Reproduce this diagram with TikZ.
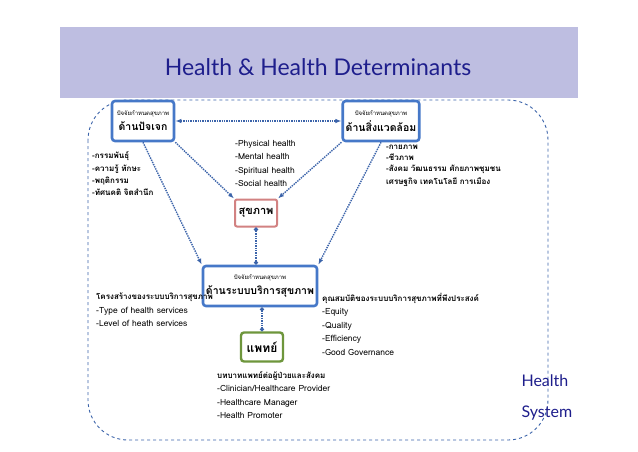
\documentclass[tikz,border=0pt]{standalone}
\usepackage{fontspec}
\setmainfont[Script=Thai]{Loma}
\newfontfamily\titlefont{Lato}
\usetikzlibrary{arrows.meta}
\definecolor{band}{RGB}{190,190,225}
\definecolor{ttl}{RGB}{30,30,140}
\definecolor{bl}{RGB}{70,120,200}
\definecolor{dots}{RGB}{60,100,170}
\definecolor{pk}{RGB}{210,130,130}
\definecolor{gr}{RGB}{110,150,60}
\newcommand{\fs}[1]{\fontsize{#1}{#1}\selectfont}
\tikzset{
 bbox/.style={draw=bl,line width=2.6pt,rounded corners=3pt,fill=white,align=center,inner xsep=3pt,inner ysep=4pt,minimum height=40pt},
 pbox/.style={draw=pk,line width=2pt,rounded corners=2pt,fill=white,font=\bfseries\fs{11},minimum width=42pt,minimum height=27pt},
 gbox/.style={draw=gr,line width=2.4pt,rounded corners=3pt,fill=white,font=\bfseries\fs{12},minimum width=42pt,minimum height=29pt},
 con/.style={dots,densely dotted,line width=1.4pt},
 tip/.style={-{Latex[length=6pt]}},
 dtip/.style={{Latex[length=6pt]}-{Latex[length=6pt]}},
 lst/.style={anchor=north west,align=left,font=\fs{8.5},inner sep=0pt},
 bl2/.style={lst,font=\fs{8}\bfseries}
}
\begin{document}
\begin{tikzpicture}[x=1pt,y=-1pt]
\useasboundingbox (0,0) rectangle (638,451);
\fill[white] (0,0) rectangle (638,451);
\fill[band] (60,27) rectangle (578,98);
\node[font=\titlefont\fontsize{23}{25}\selectfont,text=ttl] (title) at (318,67) {Health \& Health Determinants};
\draw[dots,dashed,line width=0.9pt,rounded corners=40pt] (88,100) rectangle (548,440);
\node[bbox,minimum width=62pt] (ind) at (143,121) {{\fs{6}ปัจจัยกำหนดสุขภาพ}\\[3pt]{\fs{10.5}\bfseries ด้านปัจเจก}};
\node[bbox] (env) at (381,121) {{\fs{6}ปัจจัยกำหนดสุขภาพ}\\[3pt]{\fs{10.5}\bfseries ด้านสิ่งแวดล้อม}};
\node[pbox] (hlt) at (256,213) {สุขภาพ};
\node[bbox] (sys) at (260,286) {{\fs{6}ปัจจัยกำหนดสุขภาพ}\\[3pt]{\fs{10.5}\bfseries ด้านระบบบริการสุขภาพ}};
\node[gbox] (doc) at (262,347) {แพทย์};
\draw[con,dtip] (ind.east) -- (env.west);
\draw[con,tip] (ind.south east) -- (hlt.north west);
\draw[con,tip] (env.south west) -- (hlt.north east);
\draw[con,tip] (ind.south) -- (sys.north west);
\draw[con,tip] (env.south) -- (sys.north east);
\draw[con,{Circle[length=4pt]}-{Circle[length=4pt]}] (hlt.south) -- (sys.north -| hlt.south);
\draw[con,{Circle[length=4pt]}-{Circle[length=4pt]}] (sys.south -| doc.north) -- (doc.north);
\node[bl2] (t1) at (92,151) {-กรรมพันธุ์\\[3pt]-ความรู้ ทักษะ\\[3pt]-พฤติกรรม\\[3pt]-ทัศนคติ จิตสำนึก};
\node[lst] (t2) at (235,140) {-Physical health\\[5pt]-Mental health\\[5pt]-Spiritual health\\[5pt]-Social health};
\node[bl2] (t3) at (386,145) {-กายภาพ\\[3pt]-ชีวภาพ\\[3pt]-สังคม วัฒนธรรม ศักยภาพชุมชน\\[3pt]เศรษฐกิจ เทคโนโลยี การเมือง};
\node[lst] (t4) at (96,293) {{\bfseries\fs{8}โครงสร้างของระบบบริการสุขภาพ}\\[5pt]-Type of health services\\[5pt]-Level of heath services};
\node[lst] (t5) at (322,293) {{\bfseries\fs{8}คุณสมบัติของระบบบริการสุขภาพที่พึงประสงค์}\\[5pt]-Equity\\[5pt]-Quality\\[5pt]-Efficiency\\[5pt]-Good Governance};
\node[lst] (t6) at (217,371) {{\bfseries\fs{8}บทบาทแพทย์ต่อผู้ป่วยและสังคม}\\[5pt]-Clinician/Healthcare Provider\\[5pt]-Healthcare Manager\\[5pt]-Health Promoter};
\node[anchor=west,text=ttl,font=\titlefont\fontsize{16}{18}\selectfont] (hs1) at (518,381) {Health};
\node[anchor=west,text=ttl,font=\titlefont\fontsize{16}{18}\selectfont] (hs2) at (518,413) {System};
\end{tikzpicture}
\end{document}
